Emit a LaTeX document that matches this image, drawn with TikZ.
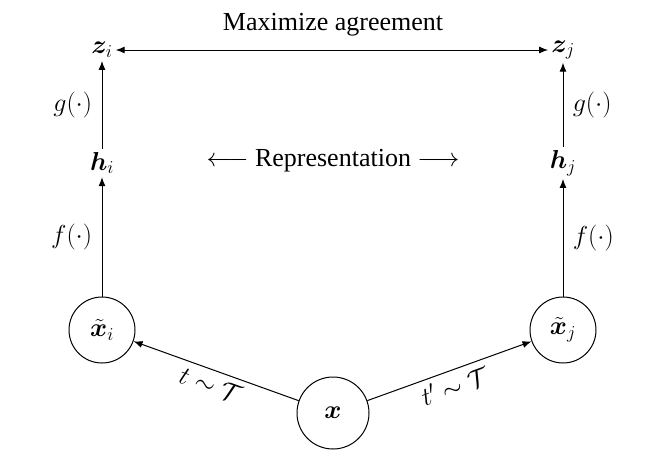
\documentclass[tikz,border=0pt]{standalone}
\usepackage{amsmath,bm}
\usepackage{fix-cm}
\usepackage{fontspec}
\setmainfont{Liberation Serif}
\usetikzlibrary{arrows.meta}
\begin{document}
\begin{tikzpicture}[x=1pt,y=-1pt,font=\fontsize{26}{30}\selectfont,
  circ/.style={circle,draw,line width=1pt,minimum size=66pt,inner sep=0pt},
  lab/.style={inner sep=3pt},
  arr/.style={-{Latex[length=9pt,width=7pt]},line width=1pt}]
\useasboundingbox (0,0) rectangle (666,471);
\node[lab] (zi) at (102,50) {$\bm{z}_i$};
\node[lab] (zj) at (563,50) {$\bm{z}_j$};
\node[lab] (hi) at (102,163) {$\bm{h}_i$};
\node[lab] (hj) at (563,163) {$\bm{h}_j$};
\node[circ] (xi) at (102,330) {$\tilde{\bm{x}}_i$};
\node[circ] (xj) at (563,330) {$\tilde{\bm{x}}_j$};
\node[circ,minimum size=72pt] (x) at (333,413) {$\bm{x}$};
\node (ma) at (333,25) {Maximize agreement};
\node (rep) at (333,161) {$\longleftarrow$ Representation $\longrightarrow$};
\draw[{Latex[length=9pt,width=7pt]}-{Latex[length=9pt,width=7pt]},line width=1pt] (zi) -- (zj);
\draw[arr] (hi) -- node[left=6pt] {$g(\cdot)$} (zi);
\draw[arr] (hj) -- node[right=6pt] {$g(\cdot)$} (zj);
\draw[arr] (xi) -- node[left=6pt] {$f(\cdot)$} (hi);
\draw[arr] (xj) -- node[right=6pt] {$f(\cdot)$} (hj);
\draw[arr] (x) -- node[below=2pt,sloped] {$t\sim\mathcal{T}$} (xi);
\draw[arr] (x) -- node[below=2pt,sloped] {$t'\sim\mathcal{T}$} (xj);
\end{tikzpicture}
\end{document}
